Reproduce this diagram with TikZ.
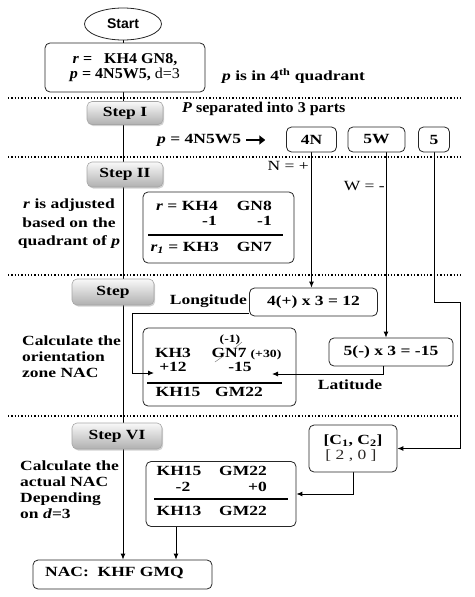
\documentclass[tikz,border=0pt]{standalone}
\usepackage{fontspec}
\setmainfont{Liberation Serif}[FakeStretch=1.25]
\newfontfamily\narrowf{Liberation Serif}[FakeStretch=1.07]
\newfontfamily\arialf{Liberation Sans}
\usetikzlibrary{shapes.geometric,arrows.meta,backgrounds,shadows}
\begin{document}
\begin{tikzpicture}[x=1pt,y=-1pt,
  every node/.style={font=\fontsize{14}{16}\selectfont\bfseries, inner sep=0pt},
  box/.style={draw=black!85, line width=0.8pt, rounded corners=5pt, fill=white},
  stepbtn/.style={draw=gray!70, line width=0.6pt, rounded corners=5pt, top color=gray!5, bottom color=gray!62,
    drop shadow={opacity=0.35, shadow xshift=1.2pt, shadow yshift=-1.5pt},
    font=\fontsize{14}{16}\selectfont\bfseries},
  t/.style={anchor=mid},
  small/.style={font=\fontsize{11}{13}\selectfont\bfseries, anchor=mid},
  reg/.style={font=\fontsize{14}{16}\selectfont, anchor=mid east},
  dotline/.style={line width=1.3pt, dash pattern=on 1.3pt off 2pt},
  arr/.style={line width=0.9pt, -{Latex[length=6pt,width=5pt]}},
  rule/.style={line width=1.4pt}
]
\useasboundingbox (0,0) rectangle (474,597);

% dotted separators
\draw[dotline] (8,98) -- (463,98);
\draw[dotline] (8,157) -- (463,157);
\draw[dotline] (8,275) -- (463,275);
\draw[dotline] (8,416) -- (463,416);

% start and r box
\node[draw=black!85, line width=0.8pt, ellipse, fill=white, minimum width=77pt, minimum height=32pt,
      font=\arialf\fontsize{14}{16}\selectfont\bfseries] (start) at (123,24) {Start};
\node[box, minimum width=160pt, minimum height=49pt, align=center,
      font=\narrowf\fontsize{15}{15.5}\selectfont\bfseries] (rbox) at (125,67.5)
  {\textit{r} =\ \ \ KH4 GN8,\\ \textit{p} = 4N5W5, {\mdseries d=3}};
\node[anchor=west] (quad) at (222,76)
  {\textit{p} is in 4\textsuperscript{th} quadrant};

% Step I
\node[stepbtn, minimum width=76pt, minimum height=23pt] (s1) at (125,113) {Step I};
\node[anchor=west, font=\narrowf\fontsize{15}{17}\selectfont\bfseries] (sep) at (182,109)
  {\textit{P} separated into 3 parts};
\node[anchor=west] (peq) at (157,140) {\textit{p} = 4N5W5};
\draw[line width=2.6pt, -{Triangle[length=6pt,width=9pt]}] ([xshift=5pt]peq.east) -- ([xshift=24pt]peq.east);
\node[box, minimum width=50pt, minimum height=25pt] (n4) at (311.5,139.5) {4N};
\node[box, minimum width=57pt, minimum height=25pt] (n5w) at (376.5,139.5) {5W};
\node[box, minimum width=31pt, minimum height=25pt] (n5) at (434,139.5) {5};

% Step II
\node[stepbtn, minimum width=76pt, minimum height=25pt] (s2) at (125,174.5) {Step II};
\node[reg] (neq) at (309,168) {N = +};
\node[reg] (weq) at (385,188) {W = -};
\node[align=center, font=\fontsize{14}{18.5}\selectfont\bfseries] (radjtxt) at (69,224)
  {\textit{r} is adjusted\\based on the\\quadrant of \textit{p}};
\node[box, minimum width=151pt, minimum height=71pt] (radj) at (218.5,227.5) {};
\node[anchor=mid east] (ra1) at (218,208) {\textit{r} = KH4};
\node[anchor=mid east] (ra2) at (272,208) {GN8};
\node[anchor=mid east] (ra3) at (217,223) {-1};
\node[anchor=mid east] (ra4) at (272,223) {-1};
\draw[rule] (148,235) -- (283,235);
\node[anchor=mid east] (ra5) at (219,249) {\textit{r}\textsubscript{\textit{1}} = KH3};
\node[anchor=mid east] (ra6) at (272,249) {GN7};

% Step III
\node[stepbtn, minimum width=82pt, minimum height=26pt] (s3) at (113,292) {Step};
\node[anchor=mid east] (lontxt) at (247,302) {Longitude};
\node[box, minimum width=128pt, minimum height=28pt] (lon) at (313.5,302) {4(+) x 3 = 12};
\node[align=left, anchor=west] (caltxt) at (22,357)
  {Calculate the\\orientation\\zone NAC};
\node[box, minimum width=153pt, minimum height=78pt] (nac1) at (219.5,367) {};
\node[small] (m1) at (230,340) {(-1)};
\node[t] (kh3) at (173,355) {KH3};
\node[t] (gn7) at (229,355) {GN7};
\node[font=\fontsize{11}{12}\selectfont\bfseries, anchor=mid] (p30) at (266,355.5) {(+30)};
\node[t] (p12) at (173,369) {+12};
\node[t] (m15) at (240,369) {-15};
\draw[rule] (147,383) -- (282,383);
\node[t] (kh15a) at (178,394) {KH15};
\node[t] (gm22a) at (239,394) {GM22};
\draw[gray, line width=0.5pt] (215,362) -- (222,357);
\draw[gray, line width=0.5pt] (235,348) -- (242,342);
\node[box, minimum width=124pt, minimum height=28pt] (lat) at (391,352) {5(-) x 3 = -15};
\node[t] (lattxt) at (350,387) {Latitude};

% Step VI
\node[stepbtn, minimum width=90pt, minimum height=26pt] (s6) at (117,436) {Step VI};
\node[align=left, anchor=west] (caltxt2) at (20,490)
  {Calculate the\\actual NAC\\Depending\\on \textit{d}=3};
\node[box, minimum width=88pt, minimum height=47pt] (cbox) at (353,448.5) {};
\node[t] (c12) at (353,442) {[C\textsubscript{1}, C\textsubscript{2}]};
\node[anchor=mid, text=black!90!olive, font=\fontsize{14}{16}\selectfont] (c20) at (351,457) {[ 2 , 0 ]};
\node[box, minimum width=150pt, minimum height=65pt] (nac2) at (221,494) {};
\node[t] (kh15b) at (179,473) {KH15};
\node[t] (gm22b) at (243,473) {GM22};
\node[t] (m2) at (183,489) {-2};
\node[anchor=mid east] (p0) at (267,489) {+0};
\draw[rule] (154,499) -- (288,499);
\node[t] (kh13) at (179,513) {KH13};
\node[t] (gm22c) at (243,513) {GM22};

% final
\node[box, minimum width=179pt, minimum height=29pt] (final) at (122.5,574.5) {};
\node[anchor=mid west] (finaltxt) at (45,574) {NAC:\ \ KHF GMQ};

% connectors
\coordinate (k1) at (460,302);
\coordinate (c1) at (132,373);
\coordinate (c1e) at (154,373);
\coordinate (c2) at (272,374);
\begin{pgfonlayer}{background}
\draw[arr] (start.south) -- (start.south |- final.north);
\draw[arr] (n4.south) -- (n4.south |- lon.north);
\draw[arr] ([xshift=9.5pt]n5w.south) -- ([xshift=9.5pt]n5w.south |- lat.north);
\draw[arr] (n5.south) |- (k1) |- (cbox.east);
\draw[arr] (cbox.south) |- (nac2.east);
\draw[arr] ([xshift=-45pt]nac2.south) -- ([xshift=-45pt]nac2.south |- final.north);
\end{pgfonlayer}
\draw[arr] ([yshift=3pt]lon.south west) -| (c1) -- (c1e);
\draw[arr] ([xshift=-8pt]lat.south) |- (c2);
\end{tikzpicture}
\end{document}
